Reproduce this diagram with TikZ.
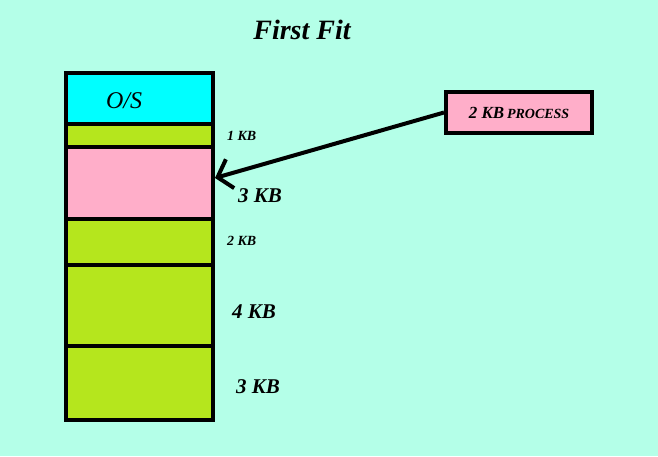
\documentclass[tikz,border=0pt]{standalone}
\usetikzlibrary{arrows.meta}
\usepackage{fontspec}
\setmainfont{Liberation Serif}
\definecolor{bgc}{RGB}{180,255,232}
\definecolor{grn}{RGB}{181,230,29}
\definecolor{pnk}{RGB}{255,174,201}
\definecolor{cyn}{RGB}{0,255,255}
\begin{document}
\begin{tikzpicture}[x=1pt,y=-1pt,line width=4pt,
  blk/.style={draw=black,line width=4pt},
  lbl/.style={font=\itshape\bfseries,anchor=west,inner sep=0pt}]
\fill[bgc] (0,0) rectangle (658,456);
\useasboundingbox (0,0) rectangle (658,456);
\node[font=\itshape\bfseries\fontsize{28}{30}\selectfont] (title) at (302,30) {First Fit};
\fill[cyn] (66,73) rectangle (213,124);
\fill[grn] (66,124) rectangle (213,147);
\fill[pnk] (66,147) rectangle (213,219);
\fill[grn] (66,219) rectangle (213,420);
\draw[blk] (66,73) rectangle (213,420);
\foreach \y in {124,147,219,265,346} \draw[blk] (64,\y) -- (215,\y);
\node[font=\itshape\fontsize{24}{26}\selectfont] (os) at (124,101) {O/S};
\node[lbl,font=\itshape\bfseries\fontsize{14}{15}\selectfont] (k1) at (225,136) {1 KB};
\node[lbl,font=\itshape\bfseries\fontsize{21}{23}\selectfont] (k3a) at (236,196) {3 KB};
\node[lbl,font=\itshape\bfseries\fontsize{14}{15}\selectfont] (k2) at (225,241) {2 KB};
\node[lbl,font=\itshape\bfseries\fontsize{21}{23}\selectfont] (k4) at (230,312) {4 KB};
\node[lbl,font=\itshape\bfseries\fontsize{21}{23}\selectfont] (k3b) at (234,387) {3 KB};
\node[draw=black,line width=4pt,fill=pnk,minimum width=146pt,minimum height=41pt,inner sep=0pt,
  font=\itshape\bfseries\fontsize{17}{18}\selectfont] (proc) at (519,112.5) {2 KB\,{\fontsize{14}{15}\selectfont PROCESS}};
\coordinate (tgt) at (215,178);
\draw[line width=4pt,-{Straight Barb[length=13pt,width=30pt]}] (proc.west) -- (tgt);
\end{tikzpicture}
\end{document}
